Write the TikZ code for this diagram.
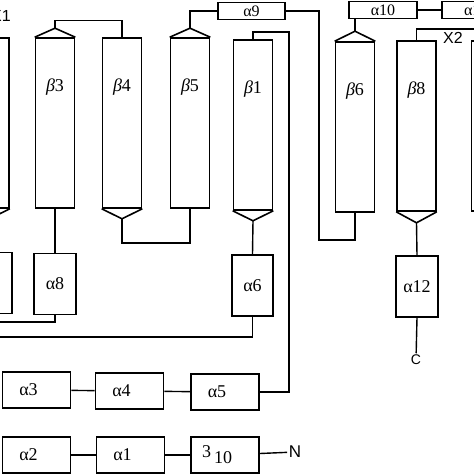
\documentclass[tikz,border=0pt]{standalone}
\usepackage{fontspec}
\setmainfont{Liberation Serif}
\setsansfont{Liberation Sans}
\usetikzlibrary{calc}

\begin{document}
\begin{tikzpicture}[x=1pt, y=-1pt, line width=1.6pt,
  glab/.style={font=\fontsize{18}{20}\selectfont},
  strand/.style={draw, minimum width=39pt, minimum height=170pt, inner sep=0pt,
                 label={[glab, anchor=center, yshift=-50pt]north:#1}},
  vhelix/.style={draw, glab, minimum width=42pt, minimum height=61pt, inner sep=0pt},
  hhelix/.style={draw, minimum width=68pt, minimum height=36pt, inner sep=0pt,
                 label={[glab, anchor=center, xshift=-8pt]center:#1}},
  thelix/.style={draw, font=\fontsize{16}{18}\selectfont, minimum width=68pt,
                 minimum height=17pt, inner sep=0pt},
  term/.style={font=\sffamily\fontsize{16}{18}\selectfont, inner sep=1pt},
  link/.style={line width=1.4pt}]
  \useasboundingbox (0,0) rectangle (474,474);
  \clip (0,0) rectangle (474,474);

  % strands
  \node[strand={}] (bx1) at (-10.5,123) {};
  \node[strand={{\itshape β}3}] (b3) at (55,123) {};
  \node[strand={{\itshape β}4}] (b4) at (122,123) {};
  \node[strand={{\itshape β}5}] (b5) at (190,123) {};
  \node[strand={{\itshape β}1}] (b1) at (253,125) {};
  \node[strand={{\itshape β}6}] (b6) at (355,127) {};
  \node[strand={{\itshape β}8}] (b8) at (416.5,126) {};
  \node[strand={}] (b7) at (491,126) {};

  % arrow ends of the strands
  \coordinate (b3tip) at ($(b3.north)+(0,-9)$);
  \coordinate (b5tip) at ($(b5.north)+(0,-9)$);
  \coordinate (b6tip) at ($(b6.north)+(0,-10)$);
  \coordinate (bx1tip) at ($(bx1.south)+(0,10)$);
  \coordinate (b4tip) at ($(b4.south)+(0,10)$);
  \coordinate (b1tip) at ($(b1.south)+(0,10)$);
  \coordinate (b8tip) at ($(b8.south)+(0,11)$);
  \draw (b3.north west) -- (b3tip) -- (b3.north east);
  \draw (b5.north west) -- (b5tip) -- (b5.north east);
  \draw (b6.north west) -- (b6tip) -- (b6.north east);
  \draw (bx1.south west) -- (bx1tip) -- (bx1.south east);
  \draw (b4.south west) -- (b4tip) -- (b4.south east);
  \draw (b1.south west) -- (b1tip) -- (b1.south east);
  \draw (b8.south west) -- (b8tip) -- (b8.south east);

  % helices
  \node[vhelix] (hl) at (-9,283) {};
  \node[vhelix] (a8) at (55,284) {α8};
  \node[vhelix, minimum width=41pt] (a6) at (252.5,285.5) {α6};
  \node[vhelix] (a12) at (417,286.5) {α12};
  \node[hhelix=α3] (a3) at (36.5,390) {};
  \node[hhelix=α4] (a4) at (129.5,391) {};
  \node[hhelix=α5] (a5) at (225,392) {};
  \node[hhelix=α2] (a2) at (36.5,455) {};
  \node[hhelix=α1] (a1) at (130.5,455) {};
  \node[hhelix={3\,\raisebox{-6pt}{10}}] (a310) at (225,455) {};
  \node[thelix, minimum width=67pt] (a9) at (251.5,11) {α9};
  \node[thelix] (a10) at (383,10) {α10\hspace{10pt}};
  \node[thelix] (a11) at (476,10) {α11\hspace{12pt}};

  % labels
  \node[term] (x1) at (1,16) {X1};
  \node[term] (x2) at (453,38) {X2};
  \node[term, font=\sffamily\fontsize{17}{19}\selectfont] (nterm) at (295,452) {N};
  \node[term, font=\sffamily\fontsize{14}{16}\selectfont] (cterm) at (416,360) {C};

  \coordinate (r1) at (289,32);
  \coordinate (r2) at (319,240);
  \coordinate (x2end) at (500,29);
  \coordinate (left1) at (-20,337);
  \coordinate (left2) at (-20,322);

  % connections
  \draw[link] (b3tip) -- ++(0,-8) -| (b4.north);
  \draw[link] (b4tip) -- ++(0,24) -| (b5.south);
  \draw[link] (b5tip) |- (a9.west);
  \draw[link] (a9.east) -| (r2) -| (b6.south);
  \draw[link] (b6tip) -- (b6tip |- a10.south);
  \draw[link] (a10.east) -- (a11.west);
  \draw[link] (b8.north) |- (x2end);
  \draw[link] (b8tip) -- (a12.north);
  \draw[link] (a12.south) -- (cterm);
  \draw[link] (b1.north) |- (r1) |- (a5.east);
  \draw[link] (b1tip) -- (a6.north);
  \draw[link] (a6.south) |- (left1);
  \draw[link] (a8.south) |- (left2);
  \draw[link] (b3.south) -- (a8.north);
  \draw[link] (bx1tip) -- (hl.north);
  \draw[link] (a3) -- (a4);
  \draw[link] (a4) -- (a5);
  \draw[link] (a2) -- (a1);
  \draw[link] (a1) -- (a310);
  \draw[link] (a310) -- (nterm);
\end{tikzpicture}
\end{document}
